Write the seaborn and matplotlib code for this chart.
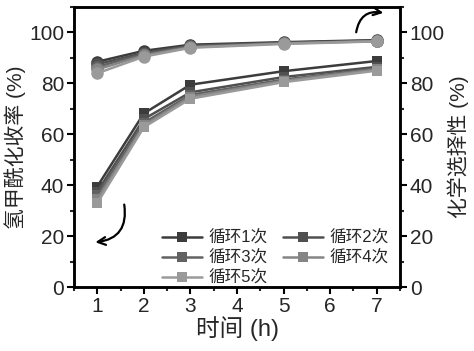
import numpy as np
import pandas as pd
import matplotlib
matplotlib.use('Agg')
import matplotlib.pyplot as plt
from matplotlib.ticker import MultipleLocator
import seaborn as sns

sns.set_style('ticks')
plt.rcParams['font.family'] = ['Liberation Sans', 'Noto Sans CJK SC']

hours = [1, 2, 3, 5, 7]
cycles = ['循环1次', '循环2次', '循环3次', '循环4次', '循环5次']
yield_1 = [39.5, 68.2, 79.5, 84.8, 88.8]
yield_2 = [37.5, 66.0, 76.5, 82.5, 86.5]
yield_3 = [36.0, 64.5, 75.5, 81.5, 85.8]
yield_4 = [34.5, 63.5, 74.8, 81.0, 85.5]
yield_5 = [33.0, 62.8, 74.0, 80.5, 85.0]
sel_1 = [88.5, 92.8, 95.2, 96.2, 97.0]
sel_2 = [87.5, 92.0, 94.8, 96.0, 96.8]
sel_3 = [86.5, 91.5, 94.5, 95.8, 96.7]
sel_4 = [85.5, 91.0, 94.2, 95.7, 96.6]
sel_5 = [84.0, 90.5, 94.0, 95.5, 96.5]
colors = ['#3c3c3c', '#505050', '#626262', '#858585', '#9a9a9a']

yields = [yield_1, yield_2, yield_3, yield_4, yield_5]
sels = [sel_1, sel_2, sel_3, sel_4, sel_5]
rows = []
for c, y, s in zip(cycles, yields, sels):
    for h, yv, sv in zip(hours, y, s):
        rows.append({'hour': h, 'cycle': c, 'yield': yv, 'sel': sv})
df = pd.DataFrame(rows)
pal = dict(zip(cycles, colors))

fig, ax = plt.subplots(figsize=(4.74, 3.51), dpi=100)
ax2 = ax.twinx()

sns.lineplot(data=df, x='hour', y='yield', hue='cycle', palette=pal, marker='s',
             markersize=7.5, markeredgewidth=0, linewidth=1.8, ax=ax, legend=True)
sns.lineplot(data=df, x='hour', y='sel', hue='cycle', palette=pal, marker='o',
             markersize=9, markeredgewidth=0, linewidth=1.8, ax=ax2, legend=False)

for a in (ax, ax2):
    a.set_xlim(0.5, 7.5)
    a.set_ylim(0, 110)
    a.yaxis.set_major_locator(MultipleLocator(20))
    a.yaxis.set_minor_locator(MultipleLocator(10))
    a.tick_params(axis='both', which='major', direction='out', length=5, width=1.5,
                  labelsize=15, color='black', pad=2)
    a.tick_params(axis='both', which='minor', direction='out', length=3, width=1.5)
    for sp in a.spines.values():
        sp.set_visible(True)
        sp.set_linewidth(1.8)
        sp.set_color('black')
ax.xaxis.set_major_locator(MultipleLocator(1))
ax.xaxis.set_minor_locator(MultipleLocator(0.5))
ax.set_xlabel('时间 (h)', fontsize=17, labelpad=0)
ax.set_ylabel('氢甲酰化收率 (%)', fontsize=15, labelpad=2)
ax2.set_ylabel('化学选择性 (%)', fontsize=15, labelpad=2)

# row-wise legend order: 1 2 / 3 4 / 5
handles, labels = ax.get_legend_handles_labels()
order = [0, 2, 4, 1, 3]
ax.legend([handles[i] for i in order], [labels[i] for i in order],
          ncol=2, loc='lower right', frameon=False, fontsize=12,
          handlelength=2.4, columnspacing=0.9, handletextpad=0.4,
          labelspacing=0.3, borderaxespad=0.0, bbox_to_anchor=(0.985, -0.02))

ax.annotate('', xy=(0.9, 17.5), xytext=(1.57, 33.5),
            arrowprops=dict(arrowstyle='->', color='black', lw=1.6,
                            connectionstyle='arc3,rad=-0.55', mutation_scale=14))
ax.annotate('', xy=(7.2, 107.5), xytext=(6.55, 99),
            arrowprops=dict(arrowstyle='->', color='black', lw=1.6,
                            connectionstyle='arc3,rad=-0.55', mutation_scale=14))

fig.subplots_adjust(left=0.156, right=0.844, top=0.98, bottom=0.182)
fig.savefig('out.png', dpi=100)
